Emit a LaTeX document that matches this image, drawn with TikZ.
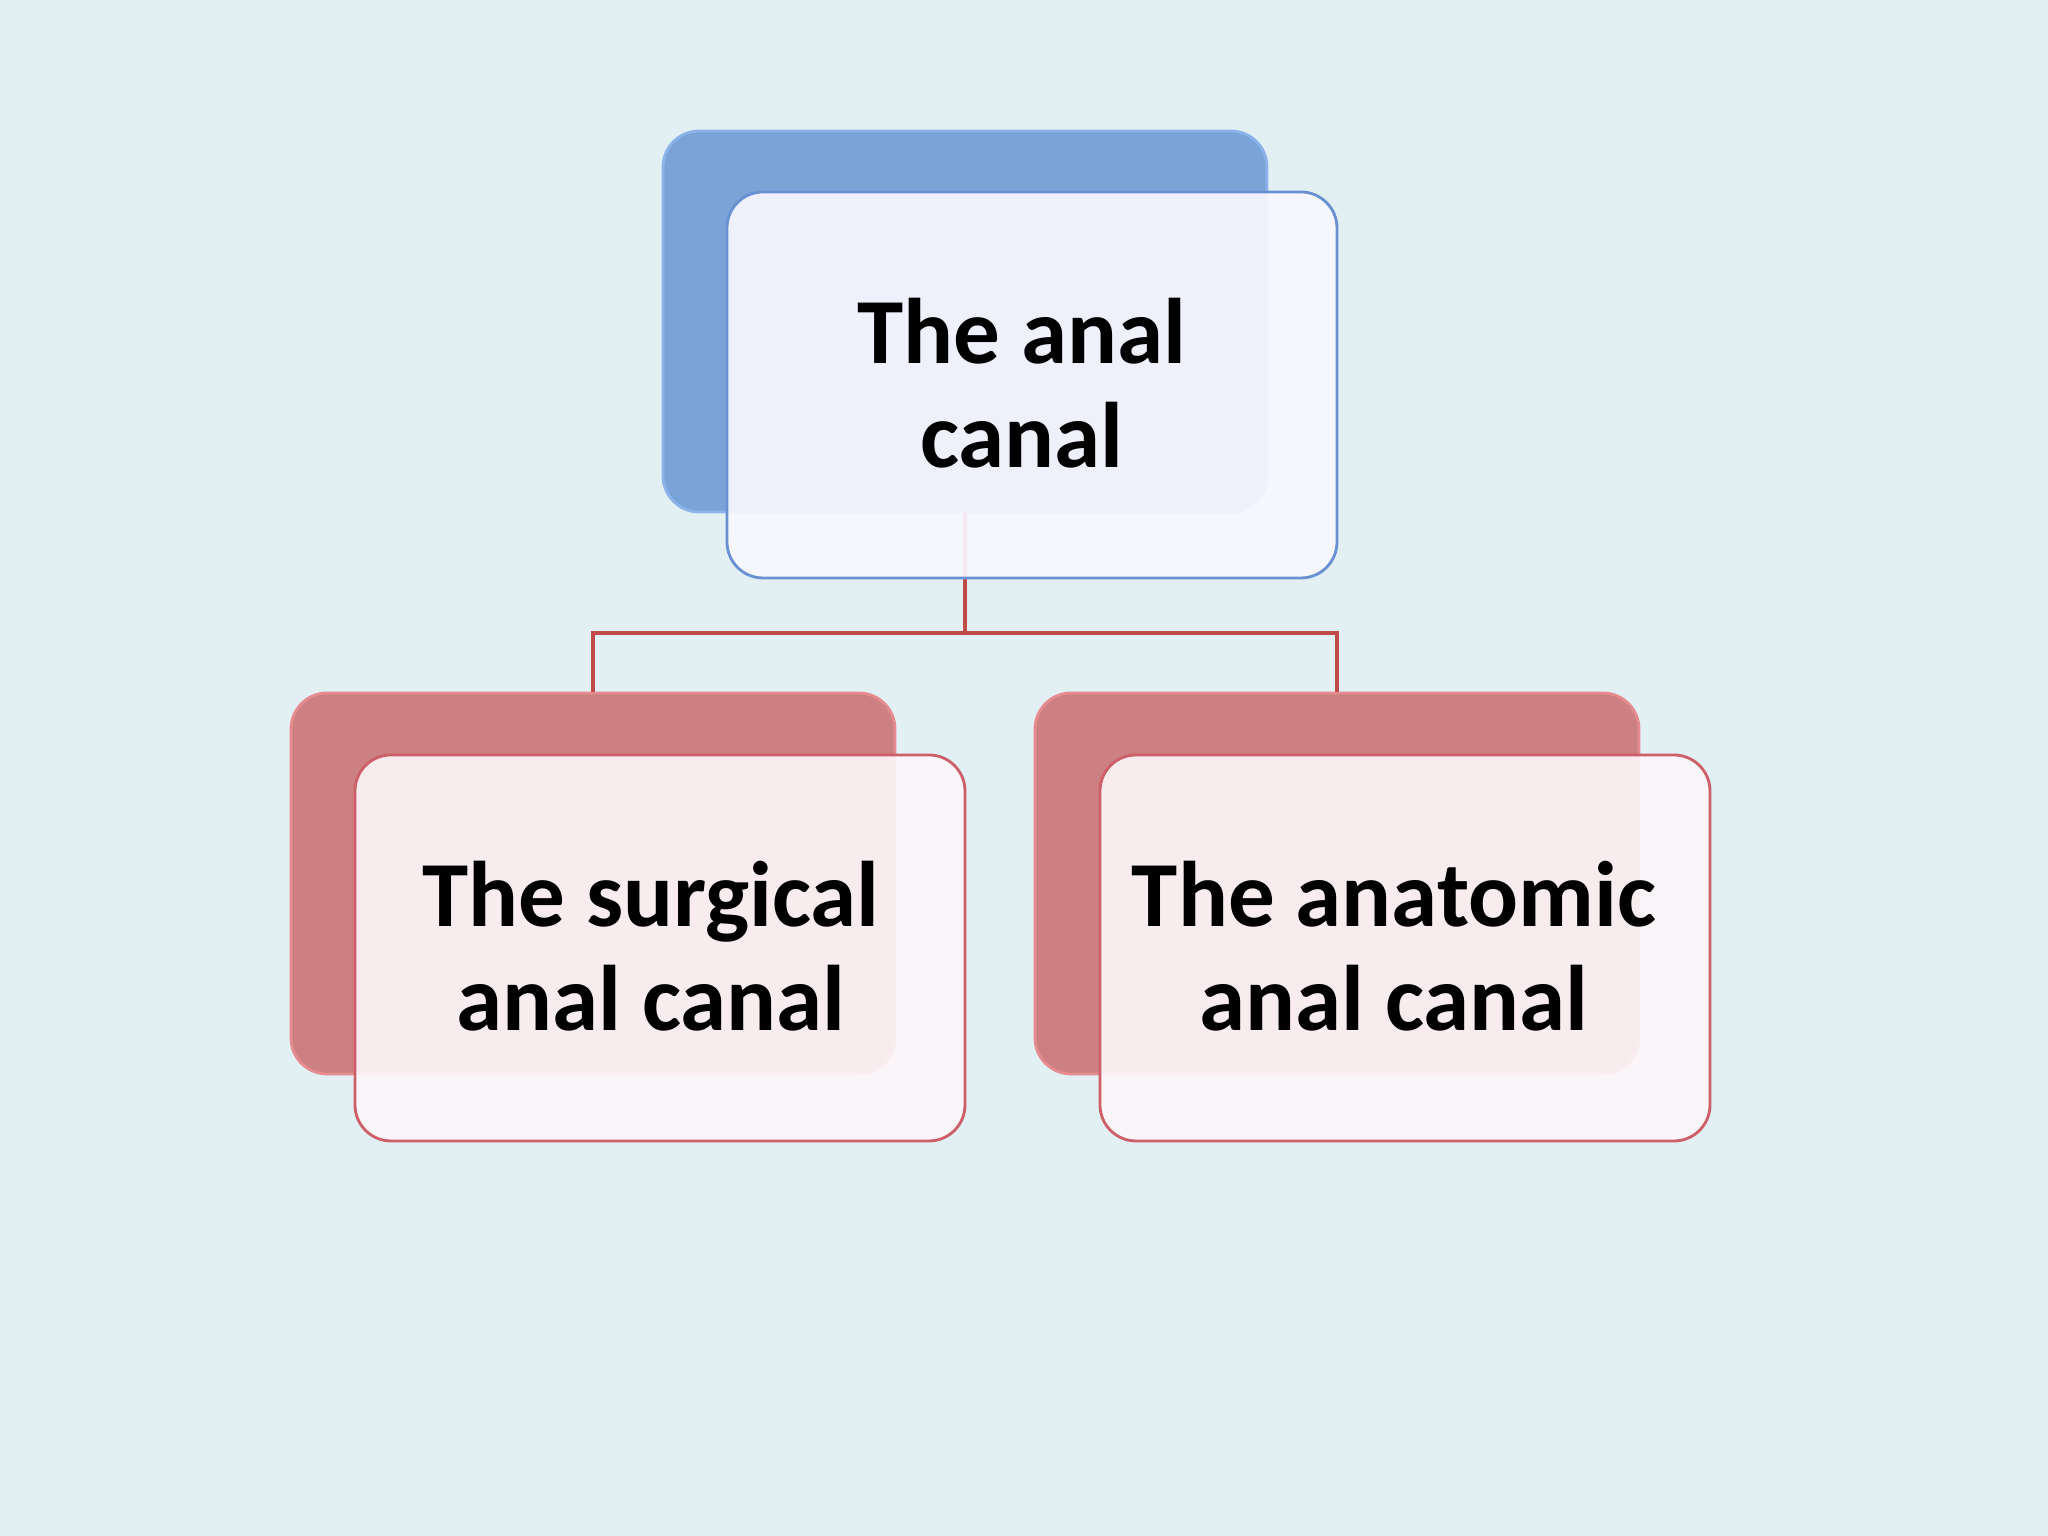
\documentclass[tikz,border=0pt]{standalone}
\usepackage{fontspec}
\setmainfont{Carlito}
\usetikzlibrary{calc}
\definecolor{bgc}{RGB}{226,240,244}
\definecolor{blueback}{RGB}{122,164,215}
\definecolor{blueedge}{RGB}{140,180,235}
\definecolor{bluefront}{RGB}{248,248,255}
\definecolor{blueline}{RGB}{105,145,210}
\definecolor{redback}{RGB}{205,128,130}
\definecolor{rededge}{RGB}{230,140,145}
\definecolor{redfront}{RGB}{252,246,249}
\definecolor{redline}{RGB}{205,95,105}
\definecolor{connc}{RGB}{190,75,72}
\tikzset{
  backbox/.style={rectangle, rounded corners=0.36cm, minimum width=6.04cm, minimum height=3.81cm, inner sep=0pt},
  frontbox/.style={rectangle, rounded corners=0.36cm, minimum width=6.10cm, minimum height=3.86cm, inner sep=0pt, fill opacity=0.92, line width=0.8pt},
  lbl/.style={font=\bfseries\fontsize{26.5}{29.5}\selectfont, align=center, text=black, inner sep=0pt},
  conn/.style={draw=connc, line width=1.2pt}
}
\begin{document}
\begin{tikzpicture}
\fill[bgc] (0,0) rectangle (20.48,15.36);
\useasboundingbox (0,0) rectangle (20.48,15.36);
% back boxes
\node[backbox, fill=blueback, draw=blueedge, line width=0.8pt] (topback) at (9.65,12.145) {};
\node[backbox, fill=redback, draw=rededge, line width=0.8pt] (leftback) at (5.93,6.525) {};
\node[backbox, fill=redback, draw=rededge, line width=0.8pt] (rightback) at (13.37,6.525) {};
% connectors
\coordinate (bus) at (9.65,9.03);
\draw[conn] (topback.south) -- (bus) -| (leftback.north);
\draw[conn] (bus) -| (rightback.north);
% front boxes
\node[frontbox, fill=bluefront, draw=blueline] (topfront) at (10.32,11.51) {};
\node[frontbox, fill=redfront, draw=redline] (leftfront) at (6.60,5.88) {};
\node[frontbox, fill=redfront, draw=redline] (rightfront) at (14.05,5.88) {};
% labels
\node[lbl] (toptext) at ($(topfront.center)+(-0.10,0.02)$) {The anal\\canal};
\node[lbl] (lefttext) at ($(leftfront.center)+(-0.09,0.02)$) {The surgical\\anal canal};
\node[lbl] (righttext) at ($(rightfront.center)+(-0.11,0.02)$) {The anatomic\\anal canal};
\end{tikzpicture}
\end{document}
